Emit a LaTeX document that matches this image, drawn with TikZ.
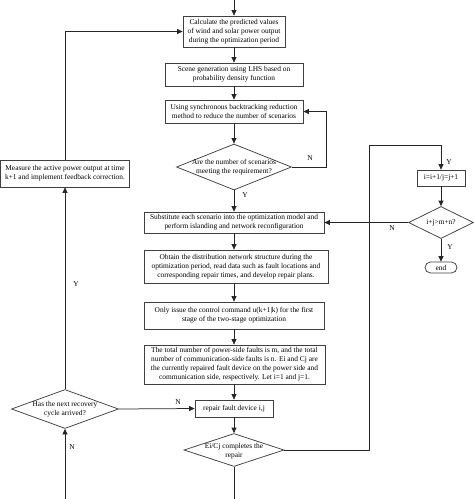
\documentclass[tikz,border=0pt]{standalone}
\usepackage{fontspec}
\setmainfont{Liberation Serif}
\usetikzlibrary{arrows.meta,shapes.geometric}
\begin{document}
\begin{tikzpicture}[x=1pt,y=-1pt,
  every node/.style={font=\fontsize{7.4}{9}\selectfont},
  line/.style={draw=black!85, line width=0.75pt},
  arr/.style={line, -{Triangle[length=5.5pt,width=5pt]}},
  box/.style={draw=black!75, line width=0.75pt, align=center, inner sep=1pt},
  dia/.style={diamond, draw=black!75, line width=0.75pt, inner sep=0pt},
  txt/.style={align=center, inner sep=0pt},
  lbl/.style={inner sep=0pt}
]
\useasboundingbox (0,0) rectangle (474,499);

% main column
\node[box, minimum width=102pt, minimum height=31pt] (calc) at (234,31.5) {Calculate the predicted values\\of wind and solar power output\\during the optimization period};
\node[box, minimum width=138pt, minimum height=23pt] (scene) at (234,74.5) {Scene generation using LHS based on\\probability density function};
\node[box, minimum width=138pt, minimum height=23pt] (using) at (234,111.5) {Using synchronous backtracking reduction\\method to reduce the number of scenarios};
\node[dia, minimum width=115pt, minimum height=46pt] (d1) at (234,167) {};
\node[txt] (d1t) at (d1) {Are the number of scenarios\\meeting the requirement?};
\node[box, minimum width=180pt, minimum height=21pt] (subst) at (234,222.5) {Substitute each scenario into the optimization model and\\perform islanding and network reconfiguration};
\node[box, minimum width=184pt, minimum height=33pt] (obtain) at (236,266.5) {Obtain the distribution network structure during the\\optimization period, read data such as fault locations and\\corresponding repair times, and develop repair plans.};
\node[box, minimum width=180pt, minimum height=27pt] (only) at (234,315.5) {Only issue the control command u(k+1|k) for the first\\stage of the two-stage optimization};
\node[box, minimum width=181pt, minimum height=39pt] (total) at (234.5,364.5) {The total number of power-side faults is m, and the total\\number of communication-side faults is n. Ei and Cj are\\the currently repaired fault device on the power side and\\communication side, respectively. Let i=1 and j=1.};
\node[box, minimum width=78pt, minimum height=17pt] (repair) at (234,408.5) {repair fault device i,j};
\node[dia, minimum width=100pt, minimum height=33pt] (d3) at (234,450) {};
\node[txt] (d3t) at (234,451.5) {Ei/Cj completes the\\repair};

% left column
\node[box, minimum width=129pt, minimum height=27pt] (meas) at (65,173.5) {Measure the active power output at time\\k+1 and implement feedback correction.};
\node[dia, minimum width=107pt, minimum height=39pt] (d2) at (65,409) {};
\node[txt] (d2t) at (d2) {Has the next recovery\\cycle arrived?};

% right column
\node[box, minimum width=48pt, minimum height=16pt] (inc) at (441,178) {i=i+1/j=j+1};
\node[dia, minimum width=65pt, minimum height=32pt] (d4) at (441,222.5) {};
\node[txt] (d4t) at (d4) {i+j>m+n?};
\node[box, rounded corners=5.5pt, minimum width=32pt, minimum height=11pt] (endn) at (441,267.5) {end};

% coordinates
\coordinate (top) at (234,0);
\coordinate (c1) at (326,167);
\coordinate (c2) at (65,31.5);
\coordinate (bl) at (65,499);
\coordinate (bm) at (234,499);
\coordinate (r1) at (369,450);
\coordinate (r2) at (369,145);
\coordinate (r3) at (441,145);

% connectors
\draw[arr] (top) -- (calc);
\draw[arr] (calc) -- (scene);
\draw[arr] (scene) -- (using);
\draw[arr] (using) -- (d1);
\draw[arr] (d1) -- (subst);
\draw[arr] (d1.east) -- (c1) |- (using.east);
\draw[arr] (meas.north) -- (c2) -- (calc.west);
\draw[arr] (subst) -- (obtain.north -| subst);
\draw[arr] (obtain.south -| only) -- (only);
\draw[arr] (only) -- (total.north -| only);
\draw[arr] (total.south -| repair) -- (repair);
\draw[arr] (repair) -- (d3);
\draw[arr] (d2.north) -- (meas.south);
\draw[arr] (d2.east) -- (repair.west);
\draw[arr] (bl) -- (d2.south);
\draw[line] (d3.south) -- (bm);
\draw[arr] (d3.east) -- (r1) -- (r2) -- (r3) -- (inc.north);
\draw[arr] (inc) -- (d4);
\draw[arr] (d4.west) -- (subst.east);
\draw[arr] (d4.south) -- (endn.north);

% labels
\node[lbl] (ly1) at (245,195) {Y};
\node[lbl] (ln1) at (310,158) {N};
\node[lbl] (ly2) at (76,284) {Y};
\node[lbl] (ln2) at (178,402) {N};
\node[lbl] (ln3) at (72,447) {N};
\node[lbl] (ly3) at (449,162) {Y};
\node[lbl] (ln4) at (392,228) {N};
\node[lbl] (ly4) at (450,247) {Y};
\end{tikzpicture}
\end{document}
